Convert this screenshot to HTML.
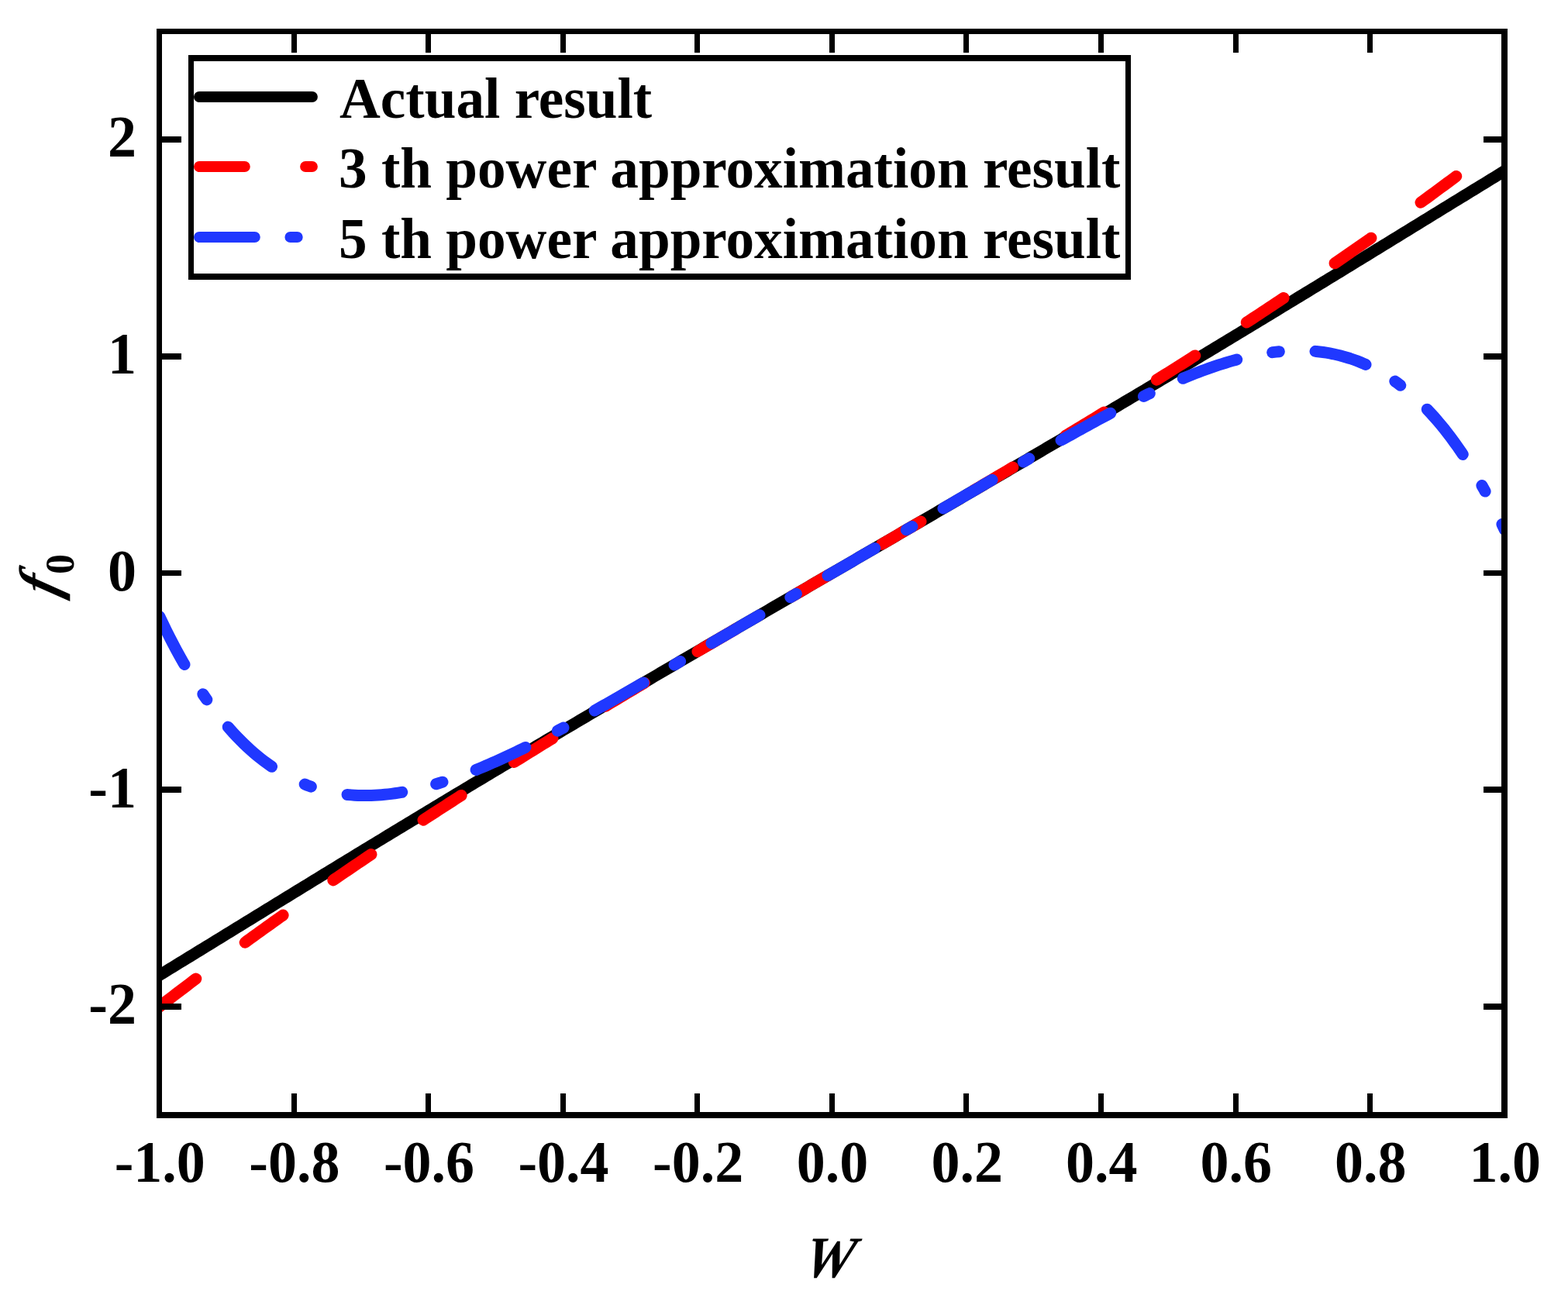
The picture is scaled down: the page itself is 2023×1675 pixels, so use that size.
<!DOCTYPE html>
<html lang="en">
<head>
<meta charset="utf-8">
<title>f0 versus W: actual result and power approximations</title>
<style>
html,body{margin:0;padding:0;background:#fff;}
body{width:2023px;height:1675px;overflow:hidden;}
svg{display:block;}
text{font-family:"Liberation Serif", serif;font-weight:bold;fill:#000;}
.it{font-style:italic;}
.crv{fill:none;stroke-linecap:round;stroke-linejoin:round;}
</style>
</head>
<body>
<svg width="2023" height="1675" viewBox="0 0 2023 1675" role="img" aria-label="Plot of f0 versus W comparing the actual result with 3 th and 5 th power approximation results">
<rect x="0" y="0" width="2023" height="1675" fill="#ffffff"/>
<defs><clipPath id="plot"><rect x="209" y="44" width="1728" height="1391"/></clipPath></defs>
<g clip-path="url(#plot)">
<path class="crv" stroke="#000" stroke-width="15.0" d="M205.75,1258.44 L210.09,1255.78 L214.43,1253.12 L218.77,1250.46 L223.11,1247.80 L227.44,1245.14 L231.78,1242.48 L236.12,1239.82 L240.46,1237.16 L244.80,1234.50 L249.14,1231.84 L253.48,1229.17 L257.82,1226.51 L262.15,1223.85 L266.49,1221.18 L270.83,1218.52 L275.17,1215.85 L279.51,1213.19 L283.85,1210.52 L288.19,1207.86 L292.52,1205.19 L296.86,1202.52 L301.20,1199.86 L305.54,1197.19 L309.88,1194.53 L314.22,1191.86 L318.56,1189.20 L322.90,1186.53 L327.24,1183.87 L331.57,1181.20 L335.91,1178.54 L340.25,1175.88 L344.59,1173.21 L348.93,1170.55 L353.27,1167.89 L357.61,1165.22 L361.94,1162.56 L366.28,1159.90 L370.62,1157.24 L374.96,1154.58 L379.30,1151.92 L383.64,1149.26 L387.98,1146.60 L392.32,1143.94 L396.65,1141.29 L400.99,1138.63 L405.33,1135.97 L409.67,1133.32 L414.01,1130.66 L418.35,1128.01 L422.69,1125.36 L427.03,1122.71 L431.37,1120.05 L435.70,1117.40 L440.04,1114.75 L444.38,1112.11 L448.72,1109.46 L453.06,1106.81 L457.40,1104.17 L461.74,1101.52 L466.08,1098.88 L470.41,1096.23 L474.75,1093.59 L479.09,1090.95 L483.43,1088.31 L487.77,1085.67 L492.11,1083.04 L496.45,1080.40 L500.79,1077.76 L505.12,1075.13 L509.46,1072.50 L513.80,1069.87 L518.14,1067.23 L522.48,1064.60 L526.82,1061.98 L531.16,1059.35 L535.50,1056.72 L539.83,1054.10 L544.17,1051.47 L548.51,1048.85 L552.85,1046.23 L557.19,1043.61 L561.53,1040.99 L565.87,1038.37 L570.20,1035.76 L574.54,1033.14 L578.88,1030.53 L583.22,1027.91 L587.56,1025.30 L591.90,1022.69 L596.24,1020.08 L600.58,1017.48 L604.91,1014.87 L609.25,1012.26 L613.59,1009.66 L617.93,1007.06 L622.27,1004.46 L626.61,1001.86 L630.95,999.26 L635.29,996.66 L639.62,994.06 L643.96,991.47 L648.30,988.88 L652.64,986.28 L656.98,983.69 L661.32,981.10 L665.66,978.51 L670.00,975.93 L674.34,973.34 L678.67,970.75 L683.01,968.17 L687.35,965.59 L691.69,963.01 L696.03,960.43 L700.37,957.85 L704.71,955.27 L709.04,952.69 L713.38,950.12 L717.72,947.55 L722.06,944.97 L726.40,942.40 L730.74,939.83 L735.08,937.26 L739.42,934.69 L743.75,932.13 L748.09,929.56 L752.43,927.00 L756.77,924.43 L761.11,921.87 L765.45,919.31 L769.79,916.75 L774.13,914.19 L778.47,911.63 L782.80,909.08 L787.14,906.52 L791.48,903.97 L795.82,901.41 L800.16,898.86 L804.50,896.31 L808.84,893.76 L813.17,891.21 L817.51,888.66 L821.85,886.11 L826.19,883.56 L830.53,881.02 L834.87,878.47 L839.21,875.93 L843.55,873.39 L847.88,870.84 L852.22,868.30 L856.56,865.76 L860.90,863.22 L865.24,860.68 L869.58,858.15 L873.92,855.61 L878.26,853.07 L882.60,850.54 L886.93,848.00 L891.27,845.47 L895.61,842.94 L899.95,840.40 L904.29,837.87 L908.63,835.34 L912.97,832.81 L917.30,830.28 L921.64,827.75 L925.98,825.22 L930.32,822.70 L934.66,820.17 L939.00,817.64 L943.34,815.11 L947.68,812.59 L952.01,810.06 L956.35,807.54 L960.69,805.02 L965.03,802.49 L969.37,799.97 L973.71,797.45 L978.05,794.92 L982.39,792.40 L986.73,789.88 L991.06,787.36 L995.40,784.84 L999.74,782.32 L1004.08,779.80 L1008.42,777.28 L1012.76,774.76 L1017.10,772.24 L1021.43,769.72 L1025.77,767.20 L1030.11,764.68 L1034.45,762.16 L1038.79,759.64 L1043.13,757.13 L1047.47,754.61 L1051.81,752.09 L1056.14,749.57 L1060.48,747.05 L1064.82,744.54 L1069.16,742.02 L1073.50,739.50 L1077.84,736.98 L1082.18,734.46 L1086.52,731.95 L1090.86,729.43 L1095.19,726.91 L1099.53,724.39 L1103.87,721.87 L1108.21,719.36 L1112.55,716.84 L1116.89,714.32 L1121.23,711.80 L1125.57,709.28 L1129.90,706.76 L1134.24,704.24 L1138.58,701.72 L1142.92,699.20 L1147.26,696.68 L1151.60,694.16 L1155.94,691.64 L1160.28,689.12 L1164.61,686.60 L1168.95,684.08 L1173.29,681.55 L1177.63,679.03 L1181.97,676.51 L1186.31,673.98 L1190.65,671.46 L1194.98,668.94 L1199.32,666.41 L1203.66,663.89 L1208.00,661.36 L1212.34,658.83 L1216.68,656.30 L1221.02,653.78 L1225.36,651.25 L1229.69,648.72 L1234.03,646.19 L1238.37,643.66 L1242.71,641.13 L1247.05,638.60 L1251.39,636.06 L1255.73,633.53 L1260.07,631.00 L1264.40,628.46 L1268.74,625.93 L1273.08,623.39 L1277.42,620.85 L1281.76,618.32 L1286.10,615.78 L1290.44,613.24 L1294.78,610.70 L1299.12,608.16 L1303.45,605.61 L1307.79,603.07 L1312.13,600.53 L1316.47,597.98 L1320.81,595.44 L1325.15,592.89 L1329.49,590.34 L1333.83,587.79 L1338.16,585.24 L1342.50,582.69 L1346.84,580.14 L1351.18,577.59 L1355.52,575.03 L1359.86,572.48 L1364.20,569.92 L1368.54,567.37 L1372.87,564.81 L1377.21,562.25 L1381.55,559.69 L1385.89,557.13 L1390.23,554.57 L1394.57,552.00 L1398.91,549.44 L1403.24,546.87 L1407.58,544.31 L1411.92,541.74 L1416.26,539.17 L1420.60,536.60 L1424.94,534.03 L1429.28,531.45 L1433.62,528.88 L1437.95,526.31 L1442.29,523.73 L1446.63,521.15 L1450.97,518.57 L1455.31,515.99 L1459.65,513.41 L1463.99,510.83 L1468.33,508.25 L1472.66,505.66 L1477.00,503.07 L1481.34,500.49 L1485.68,497.90 L1490.02,495.31 L1494.36,492.72 L1498.70,490.12 L1503.04,487.53 L1507.38,484.94 L1511.71,482.34 L1516.05,479.74 L1520.39,477.14 L1524.73,474.54 L1529.07,471.94 L1533.41,469.34 L1537.75,466.74 L1542.09,464.13 L1546.42,461.52 L1550.76,458.92 L1555.10,456.31 L1559.44,453.70 L1563.78,451.09 L1568.12,448.47 L1572.46,445.86 L1576.80,443.24 L1581.13,440.63 L1585.47,438.01 L1589.81,435.39 L1594.15,432.77 L1598.49,430.15 L1602.83,427.53 L1607.17,424.90 L1611.51,422.28 L1615.84,419.65 L1620.18,417.02 L1624.52,414.40 L1628.86,411.77 L1633.20,409.13 L1637.54,406.50 L1641.88,403.87 L1646.21,401.24 L1650.55,398.60 L1654.89,395.96 L1659.23,393.33 L1663.57,390.69 L1667.91,388.05 L1672.25,385.41 L1676.59,382.77 L1680.92,380.12 L1685.26,377.48 L1689.60,374.83 L1693.94,372.19 L1698.28,369.54 L1702.62,366.89 L1706.96,364.25 L1711.30,361.60 L1715.63,358.95 L1719.97,356.29 L1724.31,353.64 L1728.65,350.99 L1732.99,348.34 L1737.33,345.68 L1741.67,343.03 L1746.01,340.37 L1750.35,337.71 L1754.68,335.06 L1759.02,332.40 L1763.36,329.74 L1767.70,327.08 L1772.04,324.42 L1776.38,321.76 L1780.72,319.10 L1785.06,316.44 L1789.39,313.78 L1793.73,311.11 L1798.07,308.45 L1802.41,305.79 L1806.75,303.12 L1811.09,300.46 L1815.43,297.80 L1819.77,295.13 L1824.10,292.47 L1828.44,289.80 L1832.78,287.14 L1837.12,284.47 L1841.46,281.81 L1845.80,279.14 L1850.14,276.48 L1854.47,273.81 L1858.81,271.14 L1863.15,268.48 L1867.49,265.81 L1871.83,263.15 L1876.17,260.48 L1880.51,257.82 L1884.85,255.15 L1889.18,252.49 L1893.52,249.83 L1897.86,247.16 L1902.20,244.50 L1906.54,241.84 L1910.88,239.18 L1915.22,236.52 L1919.56,233.86 L1923.89,231.20 L1928.23,228.54 L1932.57,225.88 L1936.91,223.22 L1941.25,220.56"/>
<path class="crv" stroke="#ff0000" stroke-width="15.0" stroke-dasharray="59.2 78.8 60.3 78.9 59.4 80.4 58.5 80.6 58.3 79.9 58.4 79.8 58.4 81.6 58 76.9 58.4 79.4 58.4 79.35 58.4 79.35 58.6 79.1 57.3 79.7 57.1 78.8 56.9 5000" d="M205.75,1299.00 L210.09,1295.65 L214.43,1292.30 L218.77,1288.97 L223.11,1285.64 L227.44,1282.32 L231.78,1279.01 L236.12,1275.70 L240.46,1272.41 L244.80,1269.12 L249.14,1265.84 L253.48,1262.57 L257.82,1259.31 L262.15,1256.05 L266.49,1252.81 L270.83,1249.57 L275.17,1246.33 L279.51,1243.11 L283.85,1239.89 L288.19,1236.68 L292.52,1233.48 L296.86,1230.29 L301.20,1227.10 L305.54,1223.92 L309.88,1220.75 L314.22,1217.59 L318.56,1214.43 L322.90,1211.28 L327.24,1208.14 L331.57,1205.01 L335.91,1201.88 L340.25,1198.76 L344.59,1195.64 L348.93,1192.54 L353.27,1189.44 L357.61,1186.35 L361.94,1183.26 L366.28,1180.18 L370.62,1177.11 L374.96,1174.04 L379.30,1170.99 L383.64,1167.93 L387.98,1164.89 L392.32,1161.85 L396.65,1158.82 L400.99,1155.80 L405.33,1152.78 L409.67,1149.76 L414.01,1146.76 L418.35,1143.76 L422.69,1140.77 L427.03,1137.78 L431.37,1134.80 L435.70,1131.83 L440.04,1128.86 L444.38,1125.90 L448.72,1122.94 L453.06,1119.99 L457.40,1117.05 L461.74,1114.11 L466.08,1111.18 L470.41,1108.25 L474.75,1105.33 L479.09,1102.42 L483.43,1099.51 L487.77,1096.60 L492.11,1093.71 L496.45,1090.81 L500.79,1087.93 L505.12,1085.05 L509.46,1082.17 L513.80,1079.30 L518.14,1076.44 L522.48,1073.58 L526.82,1070.73 L531.16,1067.88 L535.50,1065.04 L539.83,1062.20 L544.17,1059.37 L548.51,1056.54 L552.85,1053.72 L557.19,1050.90 L561.53,1048.09 L565.87,1045.28 L570.20,1042.48 L574.54,1039.68 L578.88,1036.89 L583.22,1034.10 L587.56,1031.31 L591.90,1028.54 L596.24,1025.76 L600.58,1022.99 L604.91,1020.23 L609.25,1017.47 L613.59,1014.71 L617.93,1011.96 L622.27,1009.21 L626.61,1006.47 L630.95,1003.73 L635.29,1001.00 L639.62,998.27 L643.96,995.54 L648.30,992.82 L652.64,990.10 L656.98,987.39 L661.32,984.68 L665.66,981.98 L670.00,979.28 L674.34,976.58 L678.67,973.89 L683.01,971.20 L687.35,968.51 L691.69,965.83 L696.03,963.15 L700.37,960.47 L704.71,957.80 L709.04,955.14 L713.38,952.47 L717.72,949.81 L722.06,947.15 L726.40,944.50 L730.74,941.85 L735.08,939.20 L739.42,936.56 L743.75,933.92 L748.09,931.28 L752.43,928.65 L756.77,926.02 L761.11,923.39 L765.45,920.76 L769.79,918.14 L774.13,915.52 L778.47,912.91 L782.80,910.29 L787.14,907.68 L791.48,905.07 L795.82,902.47 L800.16,899.87 L804.50,897.27 L808.84,894.67 L813.17,892.08 L817.51,889.48 L821.85,886.89 L826.19,884.31 L830.53,881.72 L834.87,879.14 L839.21,876.56 L843.55,873.98 L847.88,871.41 L852.22,868.83 L856.56,866.26 L860.90,863.69 L865.24,861.13 L869.58,858.56 L873.92,856.00 L878.26,853.44 L882.60,850.88 L886.93,848.32 L891.27,845.76 L895.61,843.21 L899.95,840.66 L904.29,838.11 L908.63,835.56 L912.97,833.01 L917.30,830.47 L921.64,827.92 L925.98,825.38 L930.32,822.84 L934.66,820.30 L939.00,817.76 L943.34,815.22 L947.68,812.69 L952.01,810.15 L956.35,807.62 L960.69,805.08 L965.03,802.55 L969.37,800.02 L973.71,797.49 L978.05,794.96 L982.39,792.44 L986.73,789.91 L991.06,787.39 L995.40,784.86 L999.74,782.34 L1004.08,779.81 L1008.42,777.29 L1012.76,774.77 L1017.10,772.25 L1021.43,769.73 L1025.77,767.20 L1030.11,764.68 L1034.45,762.16 L1038.79,759.65 L1043.13,757.13 L1047.47,754.61 L1051.81,752.09 L1056.14,749.57 L1060.48,747.05 L1064.82,744.54 L1069.16,742.02 L1073.50,739.50 L1077.84,736.98 L1082.18,734.46 L1086.52,731.95 L1090.86,729.43 L1095.19,726.91 L1099.53,724.39 L1103.87,721.87 L1108.21,719.35 L1112.55,716.84 L1116.89,714.32 L1121.23,711.80 L1125.57,709.27 L1129.90,706.75 L1134.24,704.23 L1138.58,701.71 L1142.92,699.19 L1147.26,696.66 L1151.60,694.14 L1155.94,691.61 L1160.28,689.09 L1164.61,686.56 L1168.95,684.04 L1173.29,681.51 L1177.63,678.98 L1181.97,676.45 L1186.31,673.92 L1190.65,671.38 L1194.98,668.85 L1199.32,666.31 L1203.66,663.78 L1208.00,661.24 L1212.34,658.70 L1216.68,656.16 L1221.02,653.62 L1225.36,651.08 L1229.69,648.53 L1234.03,645.99 L1238.37,643.44 L1242.71,640.89 L1247.05,638.34 L1251.39,635.79 L1255.73,633.24 L1260.07,630.68 L1264.40,628.12 L1268.74,625.56 L1273.08,623.00 L1277.42,620.44 L1281.76,617.87 L1286.10,615.31 L1290.44,612.74 L1294.78,610.17 L1299.12,607.59 L1303.45,605.02 L1307.79,602.44 L1312.13,599.86 L1316.47,597.28 L1320.81,594.69 L1325.15,592.11 L1329.49,589.52 L1333.83,586.92 L1338.16,584.33 L1342.50,581.73 L1346.84,579.13 L1351.18,576.53 L1355.52,573.93 L1359.86,571.32 L1364.20,568.71 L1368.54,566.09 L1372.87,563.48 L1377.21,560.86 L1381.55,558.24 L1385.89,555.61 L1390.23,552.98 L1394.57,550.35 L1398.91,547.72 L1403.24,545.08 L1407.58,542.44 L1411.92,539.80 L1416.26,537.15 L1420.60,534.50 L1424.94,531.85 L1429.28,529.19 L1433.62,526.53 L1437.95,523.86 L1442.29,521.20 L1446.63,518.53 L1450.97,515.85 L1455.31,513.17 L1459.65,510.49 L1463.99,507.80 L1468.33,505.11 L1472.66,502.42 L1477.00,499.72 L1481.34,497.02 L1485.68,494.32 L1490.02,491.61 L1494.36,488.90 L1498.70,486.18 L1503.04,483.46 L1507.38,480.73 L1511.71,478.00 L1516.05,475.27 L1520.39,472.53 L1524.73,469.79 L1529.07,467.04 L1533.41,464.29 L1537.75,461.53 L1542.09,458.77 L1546.42,456.01 L1550.76,453.24 L1555.10,450.46 L1559.44,447.69 L1563.78,444.90 L1568.12,442.11 L1572.46,439.32 L1576.80,436.52 L1581.13,433.72 L1585.47,430.91 L1589.81,428.10 L1594.15,425.28 L1598.49,422.46 L1602.83,419.63 L1607.17,416.80 L1611.51,413.96 L1615.84,411.12 L1620.18,408.27 L1624.52,405.42 L1628.86,402.56 L1633.20,399.70 L1637.54,396.83 L1641.88,393.95 L1646.21,391.07 L1650.55,388.19 L1654.89,385.29 L1659.23,382.40 L1663.57,379.49 L1667.91,376.58 L1672.25,373.67 L1676.59,370.75 L1680.92,367.82 L1685.26,364.89 L1689.60,361.95 L1693.94,359.01 L1698.28,356.06 L1702.62,353.10 L1706.96,350.14 L1711.30,347.17 L1715.63,344.20 L1719.97,341.22 L1724.31,338.23 L1728.65,335.24 L1732.99,332.24 L1737.33,329.24 L1741.67,326.22 L1746.01,323.20 L1750.35,320.18 L1754.68,317.15 L1759.02,314.11 L1763.36,311.07 L1767.70,308.01 L1772.04,304.96 L1776.38,301.89 L1780.72,298.82 L1785.06,295.74 L1789.39,292.65 L1793.73,289.56 L1798.07,286.46 L1802.41,283.36 L1806.75,280.24 L1811.09,277.12 L1815.43,273.99 L1819.77,270.86 L1824.10,267.72 L1828.44,264.57 L1832.78,261.41 L1837.12,258.25 L1841.46,255.08 L1845.80,251.90 L1850.14,248.71 L1854.47,245.52 L1858.81,242.32 L1863.15,239.11 L1867.49,235.89 L1871.83,232.67 L1876.17,229.43 L1880.51,226.19 L1884.85,222.95 L1889.18,219.69 L1893.52,216.43 L1897.86,213.16 L1902.20,209.88 L1906.54,206.59 L1910.88,203.30 L1915.22,199.99 L1919.56,196.68 L1923.89,193.36 L1928.23,190.03 L1932.57,186.70 L1936.91,183.35 L1941.25,180.00"/>
<path class="crv" stroke="#2038ff" stroke-width="15.0" stroke-dasharray="70 45.05 8.7 44.65 76.3 48.45 8.7 47.95 71 45.15 8.7 45.95 70.1 46.55 8.7 45.85 72.6 46.05 8.7 46.75 71.8 46.05 8.7 46.95 70.3 46.95 8.7 46.45 73 46.45 8.7 47.55 72.7 47.85 8.7 47.15 73.6 46.95 8.7 46.75 67.5 43.65 8.7 46.35 74.3 47.05 8.7 47.75 116.1 5000" d="M205.75,795.45 L210.09,804.56 L214.43,813.43 L218.77,822.07 L223.11,830.47 L227.44,838.64 L231.78,846.59 L236.12,854.32 L240.46,861.83 L244.80,869.12 L249.14,876.21 L253.48,883.08 L257.82,889.75 L262.15,896.22 L266.49,902.49 L270.83,908.57 L275.17,914.45 L279.51,920.15 L283.85,925.66 L288.19,930.99 L292.52,936.14 L296.86,941.12 L301.20,945.92 L305.54,950.55 L309.88,955.01 L314.22,959.31 L318.56,963.45 L322.90,967.43 L327.24,971.26 L331.57,974.93 L335.91,978.45 L340.25,981.82 L344.59,985.05 L348.93,988.14 L353.27,991.09 L357.61,993.90 L361.94,996.57 L366.28,999.12 L370.62,1001.53 L374.96,1003.82 L379.30,1005.98 L383.64,1008.02 L387.98,1009.94 L392.32,1011.75 L396.65,1013.44 L400.99,1015.01 L405.33,1016.48 L409.67,1017.83 L414.01,1019.08 L418.35,1020.23 L422.69,1021.27 L427.03,1022.22 L431.37,1023.06 L435.70,1023.81 L440.04,1024.47 L444.38,1025.03 L448.72,1025.51 L453.06,1025.89 L457.40,1026.19 L461.74,1026.41 L466.08,1026.54 L470.41,1026.60 L474.75,1026.57 L479.09,1026.47 L483.43,1026.29 L487.77,1026.04 L492.11,1025.72 L496.45,1025.33 L500.79,1024.87 L505.12,1024.34 L509.46,1023.75 L513.80,1023.09 L518.14,1022.37 L522.48,1021.59 L526.82,1020.75 L531.16,1019.86 L535.50,1018.90 L539.83,1017.90 L544.17,1016.84 L548.51,1015.72 L552.85,1014.56 L557.19,1013.35 L561.53,1012.09 L565.87,1010.78 L570.20,1009.42 L574.54,1008.03 L578.88,1006.59 L583.22,1005.10 L587.56,1003.58 L591.90,1002.02 L596.24,1000.42 L600.58,998.78 L604.91,997.11 L609.25,995.40 L613.59,993.65 L617.93,991.88 L622.27,990.07 L626.61,988.23 L630.95,986.36 L635.29,984.46 L639.62,982.53 L643.96,980.58 L648.30,978.60 L652.64,976.59 L656.98,974.56 L661.32,972.51 L665.66,970.43 L670.00,968.33 L674.34,966.21 L678.67,964.07 L683.01,961.90 L687.35,959.72 L691.69,957.52 L696.03,955.31 L700.37,953.07 L704.71,950.82 L709.04,948.56 L713.38,946.27 L717.72,943.98 L722.06,941.67 L726.40,939.34 L730.74,937.01 L735.08,934.66 L739.42,932.30 L743.75,929.93 L748.09,927.55 L752.43,925.16 L756.77,922.75 L761.11,920.34 L765.45,917.92 L769.79,915.50 L774.13,913.06 L778.47,910.62 L782.80,908.17 L787.14,905.71 L791.48,903.25 L795.82,900.78 L800.16,898.31 L804.50,895.83 L808.84,893.34 L813.17,890.85 L817.51,888.36 L821.85,885.86 L826.19,883.36 L830.53,880.86 L834.87,878.35 L839.21,875.84 L843.55,873.32 L847.88,870.81 L852.22,868.29 L856.56,865.77 L860.90,863.25 L865.24,860.72 L869.58,858.20 L873.92,855.67 L878.26,853.15 L882.60,850.62 L886.93,848.09 L891.27,845.56 L895.61,843.03 L899.95,840.50 L904.29,837.97 L908.63,835.43 L912.97,832.90 L917.30,830.37 L921.64,827.84 L925.98,825.31 L930.32,822.78 L934.66,820.24 L939.00,817.71 L943.34,815.18 L947.68,812.65 L952.01,810.12 L956.35,807.59 L960.69,805.07 L965.03,802.54 L969.37,800.01 L973.71,797.48 L978.05,794.96 L982.39,792.43 L986.73,789.91 L991.06,787.38 L995.40,784.86 L999.74,782.33 L1004.08,779.81 L1008.42,777.29 L1012.76,774.77 L1017.10,772.25 L1021.43,769.72 L1025.77,767.20 L1030.11,764.68 L1034.45,762.16 L1038.79,759.65 L1043.13,757.13 L1047.47,754.61 L1051.81,752.09 L1056.14,749.57 L1060.48,747.05 L1064.82,744.54 L1069.16,742.02 L1073.50,739.50 L1077.84,736.98 L1082.18,734.46 L1086.52,731.95 L1090.86,729.43 L1095.19,726.91 L1099.53,724.39 L1103.87,721.87 L1108.21,719.35 L1112.55,716.84 L1116.89,714.32 L1121.23,711.80 L1125.57,709.28 L1129.90,706.75 L1134.24,704.23 L1138.58,701.71 L1142.92,699.19 L1147.26,696.67 L1151.60,694.14 L1155.94,691.62 L1160.28,689.09 L1164.61,686.57 L1168.95,684.04 L1173.29,681.52 L1177.63,678.99 L1181.97,676.46 L1186.31,673.93 L1190.65,671.41 L1194.98,668.88 L1199.32,666.35 L1203.66,663.82 L1208.00,661.29 L1212.34,658.76 L1216.68,656.22 L1221.02,653.69 L1225.36,651.16 L1229.69,648.63 L1234.03,646.10 L1238.37,643.57 L1242.71,641.03 L1247.05,638.50 L1251.39,635.97 L1255.73,633.44 L1260.07,630.91 L1264.40,628.38 L1268.74,625.85 L1273.08,623.33 L1277.42,620.80 L1281.76,618.28 L1286.10,615.75 L1290.44,613.23 L1294.78,610.71 L1299.12,608.19 L1303.45,605.68 L1307.79,603.16 L1312.13,600.65 L1316.47,598.14 L1320.81,595.64 L1325.15,593.14 L1329.49,590.64 L1333.83,588.15 L1338.16,585.66 L1342.50,583.17 L1346.84,580.69 L1351.18,578.22 L1355.52,575.75 L1359.86,573.29 L1364.20,570.83 L1368.54,568.38 L1372.87,565.94 L1377.21,563.50 L1381.55,561.08 L1385.89,558.66 L1390.23,556.25 L1394.57,553.84 L1398.91,551.45 L1403.24,549.07 L1407.58,546.70 L1411.92,544.34 L1416.26,541.99 L1420.60,539.66 L1424.94,537.33 L1429.28,535.02 L1433.62,532.73 L1437.95,530.44 L1442.29,528.18 L1446.63,525.93 L1450.97,523.69 L1455.31,521.48 L1459.65,519.28 L1463.99,517.10 L1468.33,514.93 L1472.66,512.79 L1477.00,510.67 L1481.34,508.57 L1485.68,506.49 L1490.02,504.44 L1494.36,502.41 L1498.70,500.40 L1503.04,498.42 L1507.38,496.47 L1511.71,494.54 L1516.05,492.64 L1520.39,490.77 L1524.73,488.93 L1529.07,487.12 L1533.41,485.35 L1537.75,483.60 L1542.09,481.89 L1546.42,480.22 L1550.76,478.58 L1555.10,476.98 L1559.44,475.42 L1563.78,473.90 L1568.12,472.41 L1572.46,470.97 L1576.80,469.58 L1581.13,468.22 L1585.47,466.91 L1589.81,465.65 L1594.15,464.44 L1598.49,463.28 L1602.83,462.16 L1607.17,461.10 L1611.51,460.10 L1615.84,459.14 L1620.18,458.25 L1624.52,457.41 L1628.86,456.63 L1633.20,455.91 L1637.54,455.25 L1641.88,454.66 L1646.21,454.13 L1650.55,453.67 L1654.89,453.28 L1659.23,452.96 L1663.57,452.71 L1667.91,452.53 L1672.25,452.43 L1676.59,452.40 L1680.92,452.46 L1685.26,452.59 L1689.60,452.81 L1693.94,453.11 L1698.28,453.49 L1702.62,453.97 L1706.96,454.53 L1711.30,455.19 L1715.63,455.94 L1719.97,456.78 L1724.31,457.73 L1728.65,458.77 L1732.99,459.92 L1737.33,461.17 L1741.67,462.52 L1746.01,463.99 L1750.35,465.56 L1754.68,467.25 L1759.02,469.06 L1763.36,470.98 L1767.70,473.02 L1772.04,475.18 L1776.38,477.47 L1780.72,479.88 L1785.06,482.43 L1789.39,485.10 L1793.73,487.91 L1798.07,490.86 L1802.41,493.95 L1806.75,497.18 L1811.09,500.55 L1815.43,504.07 L1819.77,507.74 L1824.10,511.57 L1828.44,515.55 L1832.78,519.69 L1837.12,523.99 L1841.46,528.45 L1845.80,533.08 L1850.14,537.88 L1854.47,542.86 L1858.81,548.01 L1863.15,553.34 L1867.49,558.85 L1871.83,564.55 L1876.17,570.43 L1880.51,576.51 L1884.85,582.78 L1889.18,589.25 L1893.52,595.92 L1897.86,602.79 L1902.20,609.88 L1906.54,617.17 L1910.88,624.68 L1915.22,632.41 L1919.56,640.36 L1923.89,648.53 L1928.23,656.93 L1932.57,665.57 L1936.91,674.44 L1941.25,683.55"/>
</g>
<g fill="#000" shape-rendering="crispEdges">
<rect x="202" y="37" width="1743" height="7"/>
<rect x="202" y="1435" width="1743" height="8"/>
<rect x="202" y="37" width="7" height="1406"/>
<rect x="1937" y="37" width="8" height="1406"/>
<rect x="376" y="44" width="7" height="24"/><rect x="376" y="1411" width="7" height="24"/>
<rect x="549" y="44" width="7" height="24"/><rect x="549" y="1411" width="7" height="24"/>
<rect x="723" y="44" width="7" height="24"/><rect x="723" y="1411" width="7" height="24"/>
<rect x="896" y="44" width="7" height="24"/><rect x="896" y="1411" width="7" height="24"/>
<rect x="1070" y="44" width="7" height="24"/><rect x="1070" y="1411" width="7" height="24"/>
<rect x="1243" y="44" width="7" height="24"/><rect x="1243" y="1411" width="7" height="24"/>
<rect x="1417" y="44" width="7" height="24"/><rect x="1417" y="1411" width="7" height="24"/>
<rect x="1591" y="44" width="7" height="24"/><rect x="1591" y="1411" width="7" height="24"/>
<rect x="1764" y="44" width="7" height="24"/><rect x="1764" y="1411" width="7" height="24"/>
<rect x="209" y="176" width="25" height="8"/><rect x="1914" y="176" width="23" height="8"/>
<rect x="209" y="456" width="25" height="8"/><rect x="1914" y="456" width="23" height="8"/>
<rect x="209" y="736" width="25" height="7"/><rect x="1914" y="736" width="23" height="7"/>
<rect x="209" y="1015" width="25" height="8"/><rect x="1914" y="1015" width="23" height="8"/>
<rect x="209" y="1295" width="25" height="8"/><rect x="1914" y="1295" width="23" height="8"/>
</g>
<g font-size="75.6" text-anchor="middle">
<text transform="translate(206.3,1525.4) scale(0.979,1)">-1.0</text>
<text transform="translate(379.9,1525.4) scale(0.979,1)">-0.8</text>
<text transform="translate(553.5,1525.4) scale(0.979,1)">-0.6</text>
<text transform="translate(727.0,1525.4) scale(0.979,1)">-0.4</text>
<text transform="translate(900.6,1525.4) scale(0.979,1)">-0.2</text>
<text transform="translate(1074.1,1525.4) scale(0.979,1)">0.0</text>
<text transform="translate(1247.7,1525.4) scale(0.979,1)">0.2</text>
<text transform="translate(1421.2,1525.4) scale(0.979,1)">0.4</text>
<text transform="translate(1594.8,1525.4) scale(0.979,1)">0.6</text>
<text transform="translate(1768.3,1525.4) scale(0.979,1)">0.8</text>
<text transform="translate(1941.8,1525.4) scale(0.979,1)">1.0</text>
</g>
<g font-size="75.6" text-anchor="end">
<text transform="translate(176,202) scale(0.979,1)">2</text>
<text transform="translate(176,482) scale(0.979,1)">1</text>
<text transform="translate(176,761.8) scale(0.979,1)">0</text>
<text transform="translate(176,1042) scale(0.979,1)">-1</text>
<text transform="translate(176,1321) scale(0.979,1)">-2</text>
</g>
<text class="it" transform="translate(1066.5,1648.3) skewX(-11) scale(0.985,1.02)" font-size="74" text-anchor="middle">W</text>
<text class="it" transform="translate(75,772) rotate(-90) skewX(-15)" font-size="72">f</text>
<text transform="translate(94.6,741) rotate(-90)" font-size="52">0</text>
<rect x="246.5" y="75" width="1209" height="282" fill="#fff" stroke="#000" stroke-width="7.6" shape-rendering="crispEdges"/>
<g class="crv" stroke-width="14.2">
<path stroke="#000" d="M257.1,125 L402.8,125"/>
<path stroke="#ff0000" stroke-dasharray="58.6 78.5" d="M257.1,215 L402.8,215"/>
<path stroke="#2038ff" stroke-dasharray="71.6 45.8 9.1 100" d="M257.1,306 L402.8,306"/>
</g>
<g font-size="73.2">
<text x="438" y="151.5">Actual result</text>
<text x="437" y="242">3 th power approximation result</text>
<text x="437" y="332.5">5 th power approximation result</text>
</g>
</svg>
</body>
</html>
